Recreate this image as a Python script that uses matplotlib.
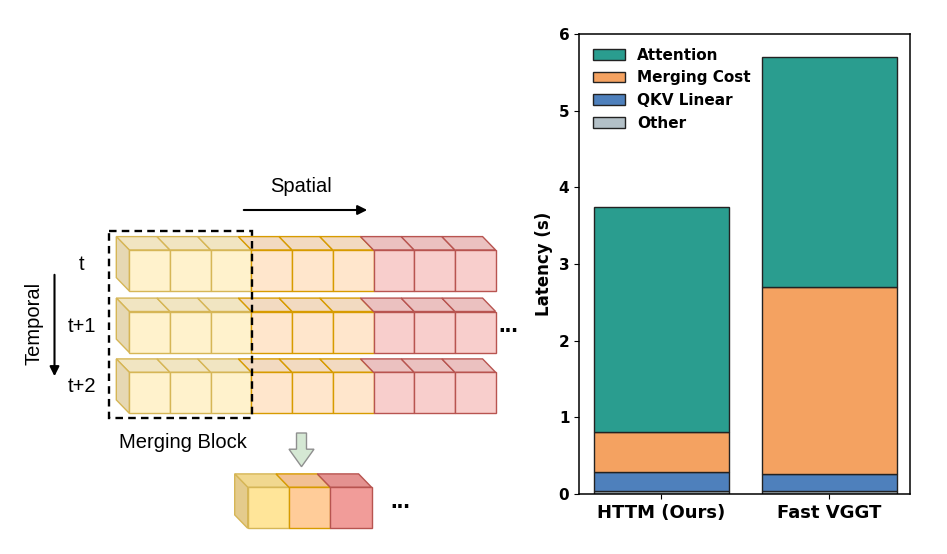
import matplotlib.pyplot as plt
from matplotlib.patches import Polygon, Rectangle, FancyArrow

# latency breakdown (s)
methods = ["HTTM (Ours)", "Fast VGGT"]
other = [0.04, 0.04]
qkv = [0.245, 0.225]
merging = [0.53, 2.435]
attention = [2.93, 3.0]

labels = ["Attention", "Merging Cost", "QKV Linear", "Other"]
colors = {"Attention": "#2a9d8f", "Merging Cost": "#f4a261",
          "QKV Linear": "#4e80bc", "Other": "#b3c0c7"}

fig = plt.figure(figsize=(9.47, 5.54), dpi=100)

# ---- left: token merging diagram (pixel coords) ----
dax = fig.add_axes([0, 0, 1, 1])
dax.set_xlim(0, 947)
dax.set_ylim(554, 0)
dax.axis("off")

DX, DY = 13, 13.4
# (front, top, side, edge) per colour group
pale = [("#fff2cc", "#f1e5c2", "#e6d8b3", "#d6b656"),
        ("#ffe6cc", "#f2dac1", "#e8cdb3", "#d79b00"),
        ("#f8cecc", "#ebc1c0", "#ddb4b3", "#b85450")]
strong = [("#ffe599", "#f1d88f", "#e4cb8c", "#d6b656"),
          ("#ffcc99", "#f2c093", "#e6b48a", "#d79b00"),
          ("#f19c99", "#e49290", "#d88a88", "#b85450")]


def cube_row(x0, y0, w, h, groups, per_group):
    n = 0
    for front, top, side, edge in groups:
        for k in range(per_group):
            x = x0 + n * w
            dax.add_patch(Polygon([(x, y0), (x + w, y0), (x + w - DX, y0 - DY), (x - DX, y0 - DY)],
                                  closed=True, fc=top, ec=edge, lw=1.0))
            dax.add_patch(Rectangle((x, y0), w, h, fc=front, ec=edge, lw=1.0))
            if n == 0:
                dax.add_patch(Polygon([(x, y0), (x - DX, y0 - DY), (x - DX, y0 + h - DY), (x, y0 + h)],
                                      closed=True, fc=side, ec=edge, lw=1.0))
            n += 1


for y0 in [250, 311.5, 372.3]:
    cube_row(129.3, y0, 40.7, 41, pale, 3)

dax.add_patch(Rectangle((109, 231), 143, 187, fill=False, ec="black", lw=1.7,
                        ls=(0, (3.2, 2.2)), zorder=5))

cube_row(247.7, 487.3, 41.3, 41, strong, 1)

font = "Liberation Sans"
fs = 14.5
dax.text(301.5, 186.5, "Spatial", ha="center", va="center", fontsize=fs, family=font)
dax.annotate("", xy=(370, 210), xytext=(241, 210),
             arrowprops=dict(arrowstyle="-|>", color="black", lw=1.5, mutation_scale=14))
dax.text(34, 323, "Temporal", ha="center", va="center", rotation=90, fontsize=fs, family=font)
dax.annotate("", xy=(54.5, 379), xytext=(54.5, 272),
             arrowprops=dict(arrowstyle="-|>", color="black", lw=1.5, mutation_scale=14))
for t, yy in zip(["t", "t+1", "t+2"], [265, 326.5, 386.5]):
    dax.text(82, yy, t, ha="center", va="center", fontsize=fs, family=font)
dax.text(183, 443, "Merging Block", ha="center", va="center", fontsize=fs, family=font)
dax.text(508, 325, "...", ha="center", va="center", fontsize=17, fontweight="bold", family=font)
dax.text(400, 502, "...", ha="center", va="center", fontsize=17, fontweight="bold", family=font)
dax.add_patch(FancyArrow(301.5, 433, 0, 33.7, width=10, head_width=25, head_length=17.5,
                         length_includes_head=True, fc="#d5e8d4", ec="#8f8f8f", lw=1.0))

# ---- right: stacked latency bars ----
ax = fig.add_axes([0.6115, 0.1083, 0.3495, 0.8303])
x = list(range(len(methods)))
bottom = [0.0] * len(methods)
stack = [("Other", other), ("QKV Linear", qkv), ("Merging Cost", merging), ("Attention", attention)]
handles = {}
for name, vals in stack:
    bars = ax.bar(x, vals, 0.8, bottom=bottom, color=colors[name], edgecolor="#222222",
                  linewidth=1.0, label=name)
    handles[name] = bars
    bottom = [b + v for b, v in zip(bottom, vals)]

ax.set_xlim(-0.49, 1.48)
ax.set_ylim(0, 6)
ax.set_xticks(x)
ax.set_xticklabels(methods, fontsize=13, fontweight="bold")
ax.set_yticks(range(7))
ax.set_yticklabels([str(i) for i in range(7)], fontsize=11, fontweight="bold")
ax.set_ylabel("Latency (s)", fontsize=12, fontweight="bold")
for s in ax.spines.values():
    s.set_linewidth(1.1)
ax.legend([handles[n] for n in labels], labels, loc="upper left", frameon=False,
          prop={"size": 11, "weight": "bold"}, handlelength=2.1)

fig.savefig("out.png", dpi=100)
